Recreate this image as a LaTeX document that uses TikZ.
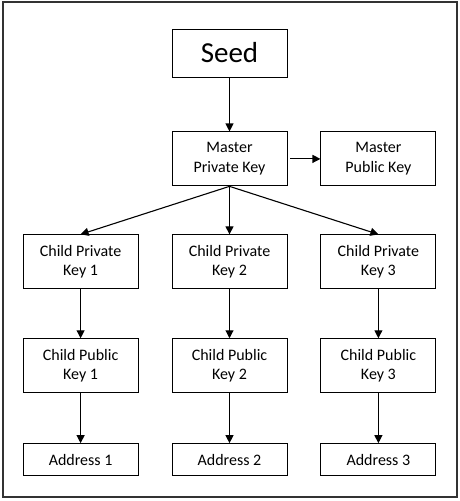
\documentclass[tikz,border=0pt]{standalone}
\usepackage{fontspec}
\setmainfont{Carlito}
\usepackage{tikz}
\usetikzlibrary{arrows.meta,positioning}

\begin{document}
\begin{tikzpicture}[
  x=1pt, y=1pt,
  keybox/.style={
    draw=black,
    line width=0.9pt,
    minimum width=115pt,
    minimum height=54pt,
    align=center,
    inner sep=0pt,
    font=\fontsize{16}{19.5}\selectfont
  },
  seedbox/.style={keybox,minimum height=48pt,font=\fontsize{29}{34}\selectfont},
  addrbox/.style={keybox,minimum height=32pt},
  flow/.style={-{Triangle[length=8pt,width=8pt]},line width=1.1pt,draw=black}
]
\useasboundingbox (0,0) rectangle (460,-501);
\draw[line width=2pt,draw=black!80] (3,-2) rectangle (457,-497);
\node[seedbox] (seed) at (229.5,-53) {Seed};
\node[keybox,below=54pt of seed] (mpriv) {Master\\Private Key};
\node[keybox,right=33pt of mpriv] (mpub) {Master\\Public Key};
\node[keybox,below=48pt of mpriv] (cpriv2) {Child Private\\Key 2};
\node[keybox,left=33pt of cpriv2] (cpriv1) {Child Private\\Key 1};
\node[keybox,right=33pt of cpriv2] (cpriv3) {Child Private\\Key 3};
\node[keybox,below=49pt of cpriv1] (cpub1) {Child Public\\Key 1};
\node[keybox,below=49pt of cpriv2] (cpub2) {Child Public\\Key 2};
\node[keybox,below=49pt of cpriv3] (cpub3) {Child Public\\Key 3};
\node[addrbox,below=50pt of cpub1] (addr1) {Address 1};
\node[addrbox,below=50pt of cpub2] (addr2) {Address 2};
\node[addrbox,below=50pt of cpub3] (addr3) {Address 3};
\draw[flow] (seed) -- (mpriv);
\draw[flow] ([xshift=3pt]mpriv.east) -- (mpub);
\draw[flow] (mpriv.south) -- (cpriv1.north);
\draw[flow] (mpriv.south) -- (cpriv2.north);
\draw[flow] (mpriv.south) -- (cpriv3.north);
\draw[flow] (cpriv1) -- (cpub1);
\draw[flow] (cpriv2) -- (cpub2);
\draw[flow] (cpriv3) -- (cpub3);
\draw[flow] (cpub1) -- (addr1);
\draw[flow] (cpub2) -- (addr2);
\draw[flow] (cpub3) -- (addr3);
\end{tikzpicture}
\end{document}
